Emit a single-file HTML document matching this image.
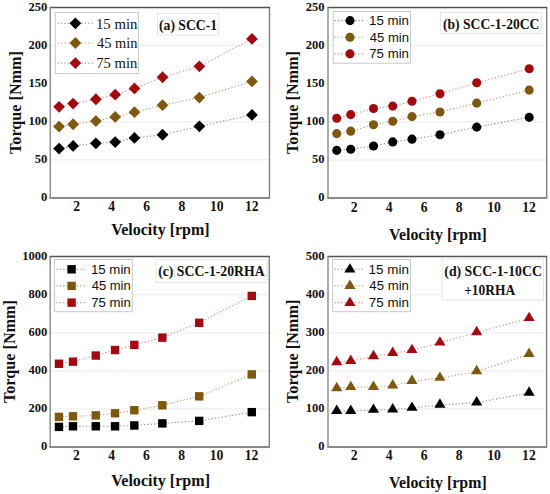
<!DOCTYPE html>
<html><head><meta charset="utf-8"><style>
html,body{margin:0;padding:0;background:#fff;width:550px;height:494px;overflow:hidden}
svg{display:block}
</style></head><body>
<svg width="550" height="494" viewBox="0 0 550 494">
<rect width="550" height="494" fill="#fff"/>
<line x1="50.30" y1="159.82" x2="269.50" y2="159.82" stroke="#f2f2f2" stroke-width="1.5"/>
<line x1="50.30" y1="121.74" x2="269.50" y2="121.74" stroke="#f2f2f2" stroke-width="1.5"/>
<line x1="50.30" y1="45.58" x2="269.50" y2="45.58" stroke="#f2f2f2" stroke-width="1.5"/>
<line x1="269.50" y1="7.50" x2="269.50" y2="197.90" stroke="#777777" stroke-width="1.3"/>
<line x1="49.70" y1="7.50" x2="270.10" y2="7.50" stroke="#555555" stroke-width="1.3"/>
<line x1="50.30" y1="7.50" x2="50.30" y2="197.90" stroke="#8a8a8a" stroke-width="1.4"/>
<line x1="49.50" y1="197.90" x2="270.10" y2="197.90" stroke="#8a8a8a" stroke-width="2"/>
<polyline points="59.07,148.62 73.10,145.96 95.89,143.29 115.18,142.07 134.47,137.89 162.53,134.76 199.36,126.31 251.96,114.89" fill="none" stroke="#929292" stroke-width="1.1" stroke-dasharray="1.3 2.1"/>
<polyline points="59.07,126.61 73.10,124.25 95.89,121.05 115.18,116.94 134.47,112.14 162.53,105.21 199.36,97.60 251.96,81.45" fill="none" stroke="#bca374" stroke-width="1.1" stroke-dasharray="1.3 2.1"/>
<polyline points="59.07,106.81 73.10,103.61 95.89,99.27 115.18,94.70 134.47,88.46 162.53,77.26 199.36,66.30 251.96,38.88" fill="none" stroke="#e28c8c" stroke-width="1.1" stroke-dasharray="1.3 2.1"/>
<path d="M59.07 142.72L64.97 148.62L59.07 154.52L53.17 148.62Z" fill="#000000"/>
<path d="M73.10 140.06L79.00 145.96L73.10 151.86L67.20 145.96Z" fill="#000000"/>
<path d="M95.89 137.39L101.79 143.29L95.89 149.19L89.99 143.29Z" fill="#000000"/>
<path d="M115.18 136.17L121.08 142.07L115.18 147.97L109.28 142.07Z" fill="#000000"/>
<path d="M134.47 131.99L140.37 137.89L134.47 143.79L128.57 137.89Z" fill="#000000"/>
<path d="M162.53 128.86L168.43 134.76L162.53 140.66L156.63 134.76Z" fill="#000000"/>
<path d="M199.36 120.41L205.26 126.31L199.36 132.21L193.46 126.31Z" fill="#000000"/>
<path d="M251.96 108.99L257.86 114.89L251.96 120.79L246.06 114.89Z" fill="#000000"/>
<path d="M59.07 120.71L64.97 126.61L59.07 132.51L53.17 126.61Z" fill="#7d580e"/>
<path d="M73.10 118.35L79.00 124.25L73.10 130.15L67.20 124.25Z" fill="#7d580e"/>
<path d="M95.89 115.15L101.79 121.05L95.89 126.95L89.99 121.05Z" fill="#7d580e"/>
<path d="M115.18 111.04L121.08 116.94L115.18 122.84L109.28 116.94Z" fill="#7d580e"/>
<path d="M134.47 106.24L140.37 112.14L134.47 118.04L128.57 112.14Z" fill="#7d580e"/>
<path d="M162.53 99.31L168.43 105.21L162.53 111.11L156.63 105.21Z" fill="#7d580e"/>
<path d="M199.36 91.70L205.26 97.60L199.36 103.50L193.46 97.60Z" fill="#7d580e"/>
<path d="M251.96 75.55L257.86 81.45L251.96 87.35L246.06 81.45Z" fill="#7d580e"/>
<path d="M59.07 100.91L64.97 106.81L59.07 112.71L53.17 106.81Z" fill="#a20a10"/>
<path d="M73.10 97.71L79.00 103.61L73.10 109.51L67.20 103.61Z" fill="#a20a10"/>
<path d="M95.89 93.37L101.79 99.27L95.89 105.17L89.99 99.27Z" fill="#a20a10"/>
<path d="M115.18 88.80L121.08 94.70L115.18 100.60L109.28 94.70Z" fill="#a20a10"/>
<path d="M134.47 82.56L140.37 88.46L134.47 94.36L128.57 88.46Z" fill="#a20a10"/>
<path d="M162.53 71.36L168.43 77.26L162.53 83.16L156.63 77.26Z" fill="#a20a10"/>
<path d="M199.36 60.40L205.26 66.30L199.36 72.20L193.46 66.30Z" fill="#a20a10"/>
<path d="M251.96 32.98L257.86 38.88L251.96 44.78L246.06 38.88Z" fill="#a20a10"/>
<rect x="55.30" y="12.60" width="83.00" height="60.90" fill="#fff" stroke="#c8c8c8" stroke-width="1"/>
<line x1="57.70" y1="23.30" x2="93.70" y2="23.30" stroke="#929292" stroke-width="1.1" stroke-dasharray="1.3 2.1"/>
<path d="M75.40 17.40L81.30 23.30L75.40 29.20L69.50 23.30Z" fill="#000000"/>
<line x1="57.70" y1="43.00" x2="93.70" y2="43.00" stroke="#bca374" stroke-width="1.1" stroke-dasharray="1.3 2.1"/>
<path d="M75.40 37.10L81.30 43.00L75.40 48.90L69.50 43.00Z" fill="#7d580e"/>
<line x1="57.70" y1="63.10" x2="93.70" y2="63.10" stroke="#e28c8c" stroke-width="1.1" stroke-dasharray="1.3 2.1"/>
<path d="M75.40 57.20L81.30 63.10L75.40 69.00L69.50 63.10Z" fill="#a20a10"/>
<rect x="157.50" y="13.40" width="61.10" height="21.80" fill="#fff" stroke="#e6e6e6" stroke-width="1"/>
@@TAGa@@
<line x1="328.00" y1="159.90" x2="546.70" y2="159.90" stroke="#f2f2f2" stroke-width="1.5"/>
<line x1="328.00" y1="121.80" x2="546.70" y2="121.80" stroke="#f2f2f2" stroke-width="1.5"/>
<line x1="328.00" y1="45.60" x2="546.70" y2="45.60" stroke="#f2f2f2" stroke-width="1.5"/>
<line x1="546.70" y1="7.50" x2="546.70" y2="198.00" stroke="#777777" stroke-width="1.3"/>
<line x1="327.40" y1="7.50" x2="547.30" y2="7.50" stroke="#555555" stroke-width="1.3"/>
<line x1="328.00" y1="7.50" x2="328.00" y2="198.00" stroke="#8a8a8a" stroke-width="1.4"/>
<line x1="327.20" y1="198.00" x2="547.30" y2="198.00" stroke="#8a8a8a" stroke-width="2"/>
<polyline points="336.75,150.38 350.74,149.23 373.49,146.03 392.74,141.92 411.98,139.17 439.97,134.75 476.72,127.13 529.20,117.38" fill="none" stroke="#929292" stroke-width="1.1" stroke-dasharray="1.3 2.1"/>
<polyline points="336.75,133.61 350.74,131.17 373.49,124.70 392.74,121.27 411.98,116.62 439.97,111.97 476.72,103.13 529.20,90.10" fill="none" stroke="#bca374" stroke-width="1.1" stroke-dasharray="1.3 2.1"/>
<polyline points="336.75,118.29 350.74,114.64 373.49,108.47 392.74,106.10 411.98,101.30 439.97,93.68 476.72,82.79 529.20,68.76" fill="none" stroke="#e28c8c" stroke-width="1.1" stroke-dasharray="1.3 2.1"/>
<circle cx="336.75" cy="150.38" r="4.55" fill="#000000"/>
<circle cx="350.74" cy="149.23" r="4.55" fill="#000000"/>
<circle cx="373.49" cy="146.03" r="4.55" fill="#000000"/>
<circle cx="392.74" cy="141.92" r="4.55" fill="#000000"/>
<circle cx="411.98" cy="139.17" r="4.55" fill="#000000"/>
<circle cx="439.97" cy="134.75" r="4.55" fill="#000000"/>
<circle cx="476.72" cy="127.13" r="4.55" fill="#000000"/>
<circle cx="529.20" cy="117.38" r="4.55" fill="#000000"/>
<circle cx="336.75" cy="133.61" r="4.55" fill="#7d580e"/>
<circle cx="350.74" cy="131.17" r="4.55" fill="#7d580e"/>
<circle cx="373.49" cy="124.70" r="4.55" fill="#7d580e"/>
<circle cx="392.74" cy="121.27" r="4.55" fill="#7d580e"/>
<circle cx="411.98" cy="116.62" r="4.55" fill="#7d580e"/>
<circle cx="439.97" cy="111.97" r="4.55" fill="#7d580e"/>
<circle cx="476.72" cy="103.13" r="4.55" fill="#7d580e"/>
<circle cx="529.20" cy="90.10" r="4.55" fill="#7d580e"/>
<circle cx="336.75" cy="118.29" r="4.55" fill="#a20a10"/>
<circle cx="350.74" cy="114.64" r="4.55" fill="#a20a10"/>
<circle cx="373.49" cy="108.47" r="4.55" fill="#a20a10"/>
<circle cx="392.74" cy="106.10" r="4.55" fill="#a20a10"/>
<circle cx="411.98" cy="101.30" r="4.55" fill="#a20a10"/>
<circle cx="439.97" cy="93.68" r="4.55" fill="#a20a10"/>
<circle cx="476.72" cy="82.79" r="4.55" fill="#a20a10"/>
<circle cx="529.20" cy="68.76" r="4.55" fill="#a20a10"/>
<rect x="333.30" y="11.40" width="77.20" height="51.80" fill="#fff" stroke="#c8c8c8" stroke-width="1"/>
<line x1="334.60" y1="20.60" x2="365.20" y2="20.60" stroke="#929292" stroke-width="1.1" stroke-dasharray="1.3 2.1"/>
<circle cx="350.00" cy="20.60" r="4.55" fill="#000000"/>
<line x1="334.60" y1="37.20" x2="365.20" y2="37.20" stroke="#bca374" stroke-width="1.1" stroke-dasharray="1.3 2.1"/>
<circle cx="350.00" cy="37.20" r="4.55" fill="#7d580e"/>
<line x1="334.60" y1="53.90" x2="365.20" y2="53.90" stroke="#e28c8c" stroke-width="1.1" stroke-dasharray="1.3 2.1"/>
<circle cx="350.00" cy="53.90" r="4.55" fill="#a20a10"/>
<rect x="440.50" y="12.60" width="101.20" height="20.80" fill="#fff" stroke="#e6e6e6" stroke-width="1"/>
@@TAGb@@
<line x1="50.20" y1="408.90" x2="269.30" y2="408.90" stroke="#f2f2f2" stroke-width="1.5"/>
<line x1="50.20" y1="370.80" x2="269.30" y2="370.80" stroke="#f2f2f2" stroke-width="1.5"/>
<line x1="50.20" y1="332.70" x2="269.30" y2="332.70" stroke="#f2f2f2" stroke-width="1.5"/>
<line x1="50.20" y1="294.60" x2="269.30" y2="294.60" stroke="#f2f2f2" stroke-width="1.5"/>
<line x1="269.30" y1="256.50" x2="269.30" y2="447.00" stroke="#777777" stroke-width="1.3"/>
<line x1="49.60" y1="256.50" x2="269.90" y2="256.50" stroke="#555555" stroke-width="1.3"/>
<line x1="50.20" y1="256.50" x2="50.20" y2="447.00" stroke="#8a8a8a" stroke-width="1.4"/>
<line x1="49.40" y1="447.00" x2="269.90" y2="447.00" stroke="#8a8a8a" stroke-width="2"/>
<polyline points="58.96,426.90 72.99,426.29 95.77,426.29 115.05,426.29 134.33,425.47 162.38,423.38 199.19,420.90 251.77,412.14" fill="none" stroke="#929292" stroke-width="1.1" stroke-dasharray="1.3 2.1"/>
<polyline points="58.96,416.90 72.99,416.33 95.77,415.38 115.05,413.28 134.33,410.23 162.38,405.28 199.19,396.33 251.77,374.42" fill="none" stroke="#bca374" stroke-width="1.1" stroke-dasharray="1.3 2.1"/>
<polyline points="58.96,363.75 72.99,361.66 95.77,355.56 115.05,350.04 134.33,344.89 162.38,337.65 199.19,322.79 251.77,295.93" fill="none" stroke="#e28c8c" stroke-width="1.1" stroke-dasharray="1.3 2.1"/>
<rect x="54.76" y="422.70" width="8.40" height="8.40" fill="#000000"/>
<rect x="68.79" y="422.09" width="8.40" height="8.40" fill="#000000"/>
<rect x="91.57" y="422.09" width="8.40" height="8.40" fill="#000000"/>
<rect x="110.85" y="422.09" width="8.40" height="8.40" fill="#000000"/>
<rect x="130.13" y="421.27" width="8.40" height="8.40" fill="#000000"/>
<rect x="158.18" y="419.18" width="8.40" height="8.40" fill="#000000"/>
<rect x="194.99" y="416.70" width="8.40" height="8.40" fill="#000000"/>
<rect x="247.57" y="407.94" width="8.40" height="8.40" fill="#000000"/>
<rect x="54.76" y="412.70" width="8.40" height="8.40" fill="#7d580e"/>
<rect x="68.79" y="412.13" width="8.40" height="8.40" fill="#7d580e"/>
<rect x="91.57" y="411.18" width="8.40" height="8.40" fill="#7d580e"/>
<rect x="110.85" y="409.08" width="8.40" height="8.40" fill="#7d580e"/>
<rect x="130.13" y="406.03" width="8.40" height="8.40" fill="#7d580e"/>
<rect x="158.18" y="401.08" width="8.40" height="8.40" fill="#7d580e"/>
<rect x="194.99" y="392.13" width="8.40" height="8.40" fill="#7d580e"/>
<rect x="247.57" y="370.22" width="8.40" height="8.40" fill="#7d580e"/>
<rect x="54.76" y="359.55" width="8.40" height="8.40" fill="#a20a10"/>
<rect x="68.79" y="357.46" width="8.40" height="8.40" fill="#a20a10"/>
<rect x="91.57" y="351.36" width="8.40" height="8.40" fill="#a20a10"/>
<rect x="110.85" y="345.84" width="8.40" height="8.40" fill="#a20a10"/>
<rect x="130.13" y="340.69" width="8.40" height="8.40" fill="#a20a10"/>
<rect x="158.18" y="333.45" width="8.40" height="8.40" fill="#a20a10"/>
<rect x="194.99" y="318.59" width="8.40" height="8.40" fill="#a20a10"/>
<rect x="247.57" y="291.73" width="8.40" height="8.40" fill="#a20a10"/>
<rect x="54.50" y="259.50" width="77.80" height="52.20" fill="#fff" stroke="#c8c8c8" stroke-width="1"/>
<line x1="56.40" y1="269.30" x2="87.00" y2="269.30" stroke="#929292" stroke-width="1.1" stroke-dasharray="1.3 2.1"/>
<rect x="67.40" y="265.10" width="8.40" height="8.40" fill="#000000"/>
<line x1="56.40" y1="285.90" x2="87.00" y2="285.90" stroke="#bca374" stroke-width="1.1" stroke-dasharray="1.3 2.1"/>
<rect x="67.40" y="281.70" width="8.40" height="8.40" fill="#7d580e"/>
<line x1="56.40" y1="302.60" x2="87.00" y2="302.60" stroke="#e28c8c" stroke-width="1.1" stroke-dasharray="1.3 2.1"/>
<rect x="67.40" y="298.40" width="8.40" height="8.40" fill="#a20a10"/>
<rect x="156.10" y="259.80" width="111.00" height="22.60" fill="#fff" stroke="#e6e6e6" stroke-width="1"/>
@@TAGc@@
<line x1="328.00" y1="408.90" x2="546.60" y2="408.90" stroke="#f2f2f2" stroke-width="1.5"/>
<line x1="328.00" y1="370.80" x2="546.60" y2="370.80" stroke="#f2f2f2" stroke-width="1.5"/>
<line x1="328.00" y1="332.70" x2="546.60" y2="332.70" stroke="#f2f2f2" stroke-width="1.5"/>
<line x1="328.00" y1="294.60" x2="546.60" y2="294.60" stroke="#f2f2f2" stroke-width="1.5"/>
<line x1="546.60" y1="256.50" x2="546.60" y2="447.00" stroke="#777777" stroke-width="1.3"/>
<line x1="327.40" y1="256.50" x2="547.20" y2="256.50" stroke="#555555" stroke-width="1.3"/>
<line x1="328.00" y1="256.50" x2="328.00" y2="447.00" stroke="#8a8a8a" stroke-width="1.4"/>
<line x1="327.20" y1="447.00" x2="547.20" y2="447.00" stroke="#8a8a8a" stroke-width="2"/>
<polyline points="336.74,411.11 350.73,411.11 373.47,410.01 392.71,409.59 411.94,407.99 439.92,404.90 476.65,402.69 529.11,392.90" fill="none" stroke="#929292" stroke-width="1.1" stroke-dasharray="1.3 2.1"/>
<polyline points="336.74,388.41 350.73,387.30 373.47,387.11 392.71,385.70 411.94,381.21 439.92,378.01 476.65,371.41 529.11,354.12" fill="none" stroke="#bca374" stroke-width="1.1" stroke-dasharray="1.3 2.1"/>
<polyline points="336.74,362.38 350.73,361.09 373.47,356.40 392.71,353.20 411.94,350.31 439.92,342.80 476.65,332.40 529.11,318.30" fill="none" stroke="#e28c8c" stroke-width="1.1" stroke-dasharray="1.3 2.1"/>
<path d="M336.74 404.51L342.34 413.91L331.14 413.91Z" fill="#000000"/>
<path d="M350.73 404.51L356.33 413.91L345.13 413.91Z" fill="#000000"/>
<path d="M373.47 403.41L379.07 412.81L367.87 412.81Z" fill="#000000"/>
<path d="M392.71 402.99L398.31 412.39L387.11 412.39Z" fill="#000000"/>
<path d="M411.94 401.39L417.54 410.79L406.34 410.79Z" fill="#000000"/>
<path d="M439.92 398.30L445.52 407.70L434.32 407.70Z" fill="#000000"/>
<path d="M476.65 396.09L482.25 405.49L471.05 405.49Z" fill="#000000"/>
<path d="M529.11 386.30L534.71 395.70L523.51 395.70Z" fill="#000000"/>
<path d="M336.74 381.81L342.34 391.21L331.14 391.21Z" fill="#7d580e"/>
<path d="M350.73 380.70L356.33 390.10L345.13 390.10Z" fill="#7d580e"/>
<path d="M373.47 380.51L379.07 389.91L367.87 389.91Z" fill="#7d580e"/>
<path d="M392.71 379.10L398.31 388.50L387.11 388.50Z" fill="#7d580e"/>
<path d="M411.94 374.61L417.54 384.01L406.34 384.01Z" fill="#7d580e"/>
<path d="M439.92 371.41L445.52 380.81L434.32 380.81Z" fill="#7d580e"/>
<path d="M476.65 364.81L482.25 374.21L471.05 374.21Z" fill="#7d580e"/>
<path d="M529.11 347.52L534.71 356.92L523.51 356.92Z" fill="#7d580e"/>
<path d="M336.74 355.78L342.34 365.18L331.14 365.18Z" fill="#a20a10"/>
<path d="M350.73 354.49L356.33 363.89L345.13 363.89Z" fill="#a20a10"/>
<path d="M373.47 349.80L379.07 359.20L367.87 359.20Z" fill="#a20a10"/>
<path d="M392.71 346.60L398.31 356.00L387.11 356.00Z" fill="#a20a10"/>
<path d="M411.94 343.71L417.54 353.11L406.34 353.11Z" fill="#a20a10"/>
<path d="M439.92 336.20L445.52 345.60L434.32 345.60Z" fill="#a20a10"/>
<path d="M476.65 325.80L482.25 335.20L471.05 335.20Z" fill="#a20a10"/>
<path d="M529.11 311.70L534.71 321.10L523.51 321.10Z" fill="#a20a10"/>
<rect x="332.70" y="259.50" width="77.80" height="52.20" fill="#fff" stroke="#c8c8c8" stroke-width="1"/>
<line x1="334.50" y1="269.30" x2="365.00" y2="269.30" stroke="#929292" stroke-width="1.1" stroke-dasharray="1.3 2.1"/>
<path d="M349.90 263.20L355.50 272.60L344.30 272.60Z" fill="#000000"/>
<line x1="334.50" y1="285.70" x2="365.00" y2="285.70" stroke="#bca374" stroke-width="1.1" stroke-dasharray="1.3 2.1"/>
<path d="M349.90 279.60L355.50 289.00L344.30 289.00Z" fill="#7d580e"/>
<line x1="334.50" y1="302.60" x2="365.00" y2="302.60" stroke="#e28c8c" stroke-width="1.1" stroke-dasharray="1.3 2.1"/>
<path d="M349.90 296.50L355.50 305.90L344.30 305.90Z" fill="#a20a10"/>
<rect x="442.00" y="259.20" width="101.50" height="41.00" fill="#fff" stroke="#e6e6e6" stroke-width="1"/>
@@TAGd@@
<text transform="matrix(0.9300 0 0 1 40.99 201.00)" font-family='"Liberation Serif", serif' font-weight="bold" font-size="13.5" fill="#111">0</text>
<text transform="matrix(0.9300 0 0 1 34.71 162.92)" font-family='"Liberation Serif", serif' font-weight="bold" font-size="13.5" fill="#111">50</text>
<text transform="matrix(0.9300 0 0 1 28.43 124.84)" font-family='"Liberation Serif", serif' font-weight="bold" font-size="13.5" fill="#111">100</text>
<text transform="matrix(0.9300 0 0 1 28.43 86.76)" font-family='"Liberation Serif", serif' font-weight="bold" font-size="13.5" fill="#111">150</text>
<text transform="matrix(0.9300 0 0 1 28.43 48.68)" font-family='"Liberation Serif", serif' font-weight="bold" font-size="13.5" fill="#111">200</text>
<text transform="matrix(0.9300 0 0 1 28.43 10.60)" font-family='"Liberation Serif", serif' font-weight="bold" font-size="13.5" fill="#111">250</text>
<text transform="matrix(1.0000 0 0 1 73.23 211.00)" font-family='"Liberation Serif", serif' font-weight="bold" font-size="13.6" fill="#111">2</text>
<text transform="matrix(1.0000 0 0 1 108.30 211.00)" font-family='"Liberation Serif", serif' font-weight="bold" font-size="13.6" fill="#111">4</text>
<text transform="matrix(1.0000 0 0 1 143.25 211.00)" font-family='"Liberation Serif", serif' font-weight="bold" font-size="13.6" fill="#111">6</text>
<text transform="matrix(1.0000 0 0 1 178.44 211.00)" font-family='"Liberation Serif", serif' font-weight="bold" font-size="13.6" fill="#111">8</text>
<text transform="matrix(1.0000 0 0 1 209.89 211.00)" font-family='"Liberation Serif", serif' font-weight="bold" font-size="13.6" fill="#111">10</text>
<text transform="matrix(1.0000 0 0 1 244.96 211.00)" font-family='"Liberation Serif", serif' font-weight="bold" font-size="13.6" fill="#111">12</text>
<text transform="matrix(1.0543 0 0 1 95.98 28.50)" font-family='"Liberation Serif", serif' font-weight="normal" font-size="14" fill="#111">15 min</text>
<text transform="matrix(1.0271 0 0 1 97.04 48.10)" font-family='"Liberation Serif", serif' font-weight="normal" font-size="14" fill="#111">45 min</text>
<text transform="matrix(1.0474 0 0 1 96.25 67.70)" font-family='"Liberation Serif", serif' font-weight="normal" font-size="14" fill="#111">75 min</text>
<text transform="matrix(0.9768 0 0 1 159.01 29.50)" font-family='"Liberation Serif", serif' font-weight="bold" font-size="14" fill="#111">(a) SCC-1</text>
<text transform="matrix(0 -1.0105 1 0 21.10 153.95)" font-family='"Liberation Serif", serif' font-weight="bold" font-size="16" fill="#111">Torque [Nmm]</text>
<text transform="matrix(1.0194 0 0 1 111.15 235.10)" font-family='"Liberation Serif", serif' font-weight="bold" font-size="15.7" fill="#111">Velocity [rpm]</text>
<text transform="matrix(0.9300 0 0 1 318.19 201.10)" font-family='"Liberation Serif", serif' font-weight="bold" font-size="13.5" fill="#111">0</text>
<text transform="matrix(0.9300 0 0 1 311.91 163.00)" font-family='"Liberation Serif", serif' font-weight="bold" font-size="13.5" fill="#111">50</text>
<text transform="matrix(0.9300 0 0 1 305.63 124.90)" font-family='"Liberation Serif", serif' font-weight="bold" font-size="13.5" fill="#111">100</text>
<text transform="matrix(0.9300 0 0 1 305.63 86.80)" font-family='"Liberation Serif", serif' font-weight="bold" font-size="13.5" fill="#111">150</text>
<text transform="matrix(0.9300 0 0 1 305.63 48.70)" font-family='"Liberation Serif", serif' font-weight="bold" font-size="13.5" fill="#111">200</text>
<text transform="matrix(0.9300 0 0 1 305.63 10.60)" font-family='"Liberation Serif", serif' font-weight="bold" font-size="13.5" fill="#111">250</text>
<text transform="matrix(1.0000 0 0 1 350.87 211.90)" font-family='"Liberation Serif", serif' font-weight="bold" font-size="13.6" fill="#111">2</text>
<text transform="matrix(1.0000 0 0 1 385.86 211.90)" font-family='"Liberation Serif", serif' font-weight="bold" font-size="13.6" fill="#111">4</text>
<text transform="matrix(1.0000 0 0 1 420.73 211.90)" font-family='"Liberation Serif", serif' font-weight="bold" font-size="13.6" fill="#111">6</text>
<text transform="matrix(1.0000 0 0 1 455.85 211.90)" font-family='"Liberation Serif", serif' font-weight="bold" font-size="13.6" fill="#111">8</text>
<text transform="matrix(1.0000 0 0 1 487.21 211.90)" font-family='"Liberation Serif", serif' font-weight="bold" font-size="13.6" fill="#111">10</text>
<text transform="matrix(1.0000 0 0 1 522.20 211.90)" font-family='"Liberation Serif", serif' font-weight="bold" font-size="13.6" fill="#111">12</text>
<text transform="matrix(1.0255 0 0 1 368.97 25.20)" font-family='"Liberation Sans", sans-serif' font-weight="normal" font-size="13" fill="#111">15 min</text>
<text transform="matrix(1.0053 0 0 1 369.75 41.60)" font-family='"Liberation Sans", sans-serif' font-weight="normal" font-size="13" fill="#111">45 min</text>
<text transform="matrix(1.0187 0 0 1 369.24 57.90)" font-family='"Liberation Sans", sans-serif' font-weight="normal" font-size="13" fill="#111">75 min</text>
<text transform="matrix(0.9733 0 0 1 443.01 28.60)" font-family='"Liberation Serif", serif' font-weight="bold" font-size="14" fill="#111">(b) SCC-1-20CC</text>
<text transform="matrix(0 -1.0105 1 0 298.30 153.95)" font-family='"Liberation Serif", serif' font-weight="bold" font-size="16" fill="#111">Torque [Nmm]</text>
<text transform="matrix(1.0121 0 0 1 388.95 240.10)" font-family='"Liberation Serif", serif' font-weight="bold" font-size="15.7" fill="#111">Velocity [rpm]</text>
<text transform="matrix(0.9300 0 0 1 40.99 450.10)" font-family='"Liberation Serif", serif' font-weight="bold" font-size="13.5" fill="#111">0</text>
<text transform="matrix(0.9300 0 0 1 28.43 412.00)" font-family='"Liberation Serif", serif' font-weight="bold" font-size="13.5" fill="#111">200</text>
<text transform="matrix(0.9300 0 0 1 28.43 373.90)" font-family='"Liberation Serif", serif' font-weight="bold" font-size="13.5" fill="#111">400</text>
<text transform="matrix(0.9300 0 0 1 28.43 335.80)" font-family='"Liberation Serif", serif' font-weight="bold" font-size="13.5" fill="#111">600</text>
<text transform="matrix(0.9300 0 0 1 28.43 297.70)" font-family='"Liberation Serif", serif' font-weight="bold" font-size="13.5" fill="#111">800</text>
<text transform="matrix(0.9300 0 0 1 22.15 259.60)" font-family='"Liberation Serif", serif' font-weight="bold" font-size="13.5" fill="#111">1000</text>
<text transform="matrix(1.0000 0 0 1 73.12 460.10)" font-family='"Liberation Serif", serif' font-weight="bold" font-size="13.6" fill="#111">2</text>
<text transform="matrix(1.0000 0 0 1 108.17 460.10)" font-family='"Liberation Serif", serif' font-weight="bold" font-size="13.6" fill="#111">4</text>
<text transform="matrix(1.0000 0 0 1 143.10 460.10)" font-family='"Liberation Serif", serif' font-weight="bold" font-size="13.6" fill="#111">6</text>
<text transform="matrix(1.0000 0 0 1 178.29 460.10)" font-family='"Liberation Serif", serif' font-weight="bold" font-size="13.6" fill="#111">8</text>
<text transform="matrix(1.0000 0 0 1 209.72 460.10)" font-family='"Liberation Serif", serif' font-weight="bold" font-size="13.6" fill="#111">10</text>
<text transform="matrix(1.0000 0 0 1 244.77 460.10)" font-family='"Liberation Serif", serif' font-weight="bold" font-size="13.6" fill="#111">12</text>
<text transform="matrix(1.0228 0 0 1 90.88 273.70)" font-family='"Liberation Sans", sans-serif' font-weight="normal" font-size="13" fill="#111">15 min</text>
<text transform="matrix(1.0026 0 0 1 91.65 290.40)" font-family='"Liberation Sans", sans-serif' font-weight="normal" font-size="13" fill="#111">45 min</text>
<text transform="matrix(1.0160 0 0 1 91.14 307.10)" font-family='"Liberation Sans", sans-serif' font-weight="normal" font-size="13" fill="#111">75 min</text>
<text transform="matrix(0.9806 0 0 1 158.21 276.40)" font-family='"Liberation Serif", serif' font-weight="bold" font-size="14" fill="#111">(c) SCC-1-20RHA</text>
<text transform="matrix(0 -1.0135 1 0 14.90 403.05)" font-family='"Liberation Serif", serif' font-weight="bold" font-size="16" fill="#111">Torque [Nmm]</text>
<text transform="matrix(1.0236 0 0 1 111.14 486.40)" font-family='"Liberation Serif", serif' font-weight="bold" font-size="15.7" fill="#111">Velocity [rpm]</text>
<text transform="matrix(0.9300 0 0 1 318.19 450.10)" font-family='"Liberation Serif", serif' font-weight="bold" font-size="13.5" fill="#111">0</text>
<text transform="matrix(0.9300 0 0 1 305.63 412.00)" font-family='"Liberation Serif", serif' font-weight="bold" font-size="13.5" fill="#111">100</text>
<text transform="matrix(0.9300 0 0 1 305.63 373.90)" font-family='"Liberation Serif", serif' font-weight="bold" font-size="13.5" fill="#111">200</text>
<text transform="matrix(0.9300 0 0 1 305.63 335.80)" font-family='"Liberation Serif", serif' font-weight="bold" font-size="13.5" fill="#111">300</text>
<text transform="matrix(0.9300 0 0 1 305.63 297.70)" font-family='"Liberation Serif", serif' font-weight="bold" font-size="13.5" fill="#111">400</text>
<text transform="matrix(0.9300 0 0 1 305.63 259.60)" font-family='"Liberation Serif", serif' font-weight="bold" font-size="13.5" fill="#111">500</text>
<text transform="matrix(1.0000 0 0 1 350.86 460.10)" font-family='"Liberation Serif", serif' font-weight="bold" font-size="13.6" fill="#111">2</text>
<text transform="matrix(1.0000 0 0 1 385.83 460.10)" font-family='"Liberation Serif", serif' font-weight="bold" font-size="13.6" fill="#111">4</text>
<text transform="matrix(1.0000 0 0 1 420.68 460.10)" font-family='"Liberation Serif", serif' font-weight="bold" font-size="13.6" fill="#111">6</text>
<text transform="matrix(1.0000 0 0 1 455.79 460.10)" font-family='"Liberation Serif", serif' font-weight="bold" font-size="13.6" fill="#111">8</text>
<text transform="matrix(1.0000 0 0 1 487.14 460.10)" font-family='"Liberation Serif", serif' font-weight="bold" font-size="13.6" fill="#111">10</text>
<text transform="matrix(1.0000 0 0 1 522.11 460.10)" font-family='"Liberation Serif", serif' font-weight="bold" font-size="13.6" fill="#111">12</text>
<text transform="matrix(1.0362 0 0 1 368.56 273.70)" font-family='"Liberation Sans", sans-serif' font-weight="normal" font-size="13" fill="#111">15 min</text>
<text transform="matrix(1.0158 0 0 1 369.35 290.40)" font-family='"Liberation Sans", sans-serif' font-weight="normal" font-size="13" fill="#111">45 min</text>
<text transform="matrix(1.0293 0 0 1 368.83 307.10)" font-family='"Liberation Sans", sans-serif' font-weight="normal" font-size="13" fill="#111">75 min</text>
<text transform="matrix(0.9846 0 0 1 444.31 275.70)" font-family='"Liberation Serif", serif' font-weight="bold" font-size="14" fill="#111">(d) SCC-1-10CC</text>
<text transform="matrix(0.9608 0 0 1 464.18 295.40)" font-family='"Liberation Serif", serif' font-weight="bold" font-size="14" fill="#111">+10RHA</text>
<text transform="matrix(0 -1.0165 1 0 297.70 403.05)" font-family='"Liberation Serif", serif' font-weight="bold" font-size="16" fill="#111">Torque [Nmm]</text>
<text transform="matrix(1.0121 0 0 1 388.95 487.70)" font-family='"Liberation Serif", serif' font-weight="bold" font-size="15.7" fill="#111">Velocity [rpm]</text>
</svg></body></html>
